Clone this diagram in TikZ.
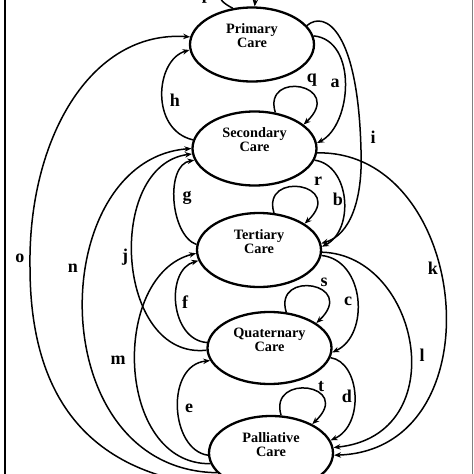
\documentclass[tikz,border=0pt]{standalone}
\usepackage{fontspec}
\setmainfont{Liberation Serif}
\usetikzlibrary{shapes.geometric,arrows.meta}
\newcommand\twoline[2]{\raisebox{3pt}[0pt][0pt]{\begin{tabular}{@{}c@{}}#1\\#2\end{tabular}}}
\tikzset{
  state/.style={draw, line width=2.3pt, ellipse, minimum width=124pt, minimum height=74pt,
    inner sep=0pt, font=\bfseries\fontsize{14.3}{14}\selectfont},
  edge/.style={line width=1.5pt, -{Stealth[length=7pt,width=5.5pt]}},
  lab/.style={font=\bfseries\fontsize{18}{18}\selectfont, inner sep=0pt},
}
\begin{document}
\begin{tikzpicture}[x=1pt,y=-1pt]
\useasboundingbox (0,0) rectangle (474,474);
\clip (0,0) rectangle (474,474);
\fill[white] (0,0) rectangle (474,474);
% frame lines
\draw[line width=2pt] (4.5,0) -- (4.5,474);
\draw[gray, line width=1.5pt] (472.5,0) -- (472.5,474);
% states
\node[state] (P) at (252,44.5) {\twoline{Primary}{Care}};
\node[state] (S) at (254.5,148.5) {\twoline{Secondary}{Care}};
\node[state] (T) at (259,250) {\twoline{Tertiary}{Care}};
\node[state, minimum height=72pt] (Q) at (269.5,348) {\twoline{Quaternary}{Care}};
\node[state] (L) at (271,453) {\twoline{Palliative}{Care}};
% right side
\draw[edge] (P.8) .. controls (358,40) and (352,125) .. (S.5); % a
\draw[edge] (P.19) .. controls (325,10) and (358,30) .. (361,150) .. controls (363,200) and (350,235) .. (T.6); % i
\draw[edge] (S.-11) .. controls (350,165) and (355,230) .. (T.3); % b
\draw[edge] (S.-4) .. controls (470,150) and (500,450) .. (L.-2); % k
\draw[edge] (T.-5) .. controls (365,260) and (370,335) .. (Q.-4); % c
\draw[edge] (T.-2) .. controls (420,255) and (455,435) .. (L.5); % l
\draw[edge] (Q.-9) .. controls (360,362) and (365,425) .. (L.12); % d
% left side
\draw[edge] (S.172) .. controls (150,130) and (155,60) .. (P.185); % h
\draw[edge] (L.235) .. controls (100,485) and (30,410) .. (30,267) .. controls (28,140) and (90,30) .. (P.173); % o
\draw[edge] (L.200) .. controls (40,470) and (45,160) .. (S.180); % n
\draw[edge] (Q.182) .. controls (115,360) and (105,165) .. (S.185); % j
\draw[edge] (T.175) .. controls (170,235) and (165,165) .. (S.191); % g
\draw[edge] (L.190) .. controls (115,465) and (110,275) .. (T.183); % m
\draw[edge] (Q.175) .. controls (170,340) and (165,270) .. (T.190); % f
\draw[edge] (L.182) .. controls (170,450) and (165,365) .. (Q.192); % e
% self loops
\draw[edge] (P.118) .. controls +(-40,-20) and +(3,-30) .. (P.86); % p
\draw[edge] (S.60) .. controls +(-13,-43) and +(42,-40) .. (S.26); % q
\draw[edge] (T.68) .. controls +(-13,-43) and +(42,-40) .. (T.30); % r
\draw[edge] (Q.65) .. controls +(-13,-43) and +(42,-40) .. (Q.28); % s
\draw[edge] (L.75) .. controls +(-13,-43) and +(42,-40) .. (L.35); % t
% labels
\node[lab] (lp) at (207,-3) {p};
\node[lab] (lq) at (312,80) {q};
\node[lab] (la) at (335,83) {a};
\node[lab] (lh) at (175,100) {h};
\node[lab] (li) at (373,137) {i};
\node[lab] (lr) at (318,181) {r};
\node[lab] (lb) at (338,199) {b};
\node[lab] (lg) at (187,198) {g};
\node[lab] (lj) at (125,257) {j};
\node[lab] (lo) at (20,258) {o};
\node[lab] (ln) at (73,268) {n};
\node[lab] (lk) at (433,268) {k};
\node[lab] (ls) at (324,282) {s};
\node[lab] (lc) at (348,301) {c};
\node[lab] (lf) at (185,302) {f};
\node[lab] (lm) at (118,360) {m};
\node[lab] (ll) at (422,355) {l};
\node[lab] (lt) at (321,387) {t};
\node[lab] (ld) at (347,396) {d};
\node[lab] (le) at (189,408) {e};
\end{tikzpicture}
\end{document}
